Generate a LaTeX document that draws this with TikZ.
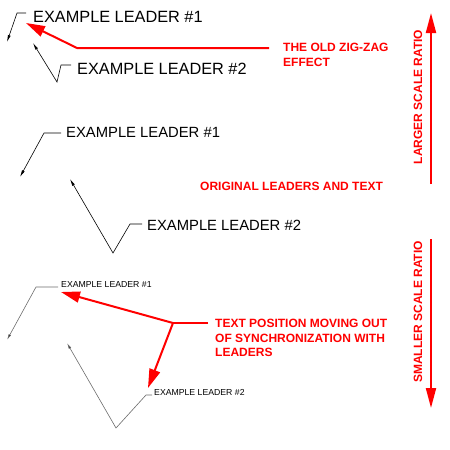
\documentclass[tikz,border=0pt]{standalone}
\usepackage{fontspec}
\setmainfont{Liberation Sans}
\usetikzlibrary{arrows.meta}
\definecolor{cadred}{RGB}{255,0,0}
\begin{document}
\begin{tikzpicture}[x=1pt,y=-1pt,
  leadtxt/.style={anchor=base west,inner sep=0pt,text=black},
  redtxt/.style={anchor=north west,inner sep=0pt,text=cadred,align=left,font=\bfseries\fontsize{12}{14.5}\selectfont},
  leader/.style={draw=black,line width=0.6pt,-{Latex[length=7pt,width=3pt]}},
  gleader/.style={draw=gray!85!black,line width=0.6pt,-{Latex[length=6pt,width=2.6pt,fill=black]}},
  redarrow/.style={draw=cadred,line width=2pt,-{Triangle[length=19pt,width=11pt]}},
  redline/.style={draw=cadred,line width=2pt}]
\useasboundingbox (0,0) rectangle (450,450);
% ---------- top group ----------
\node[leadtxt,font=\fontsize{16.3}{18}\selectfont] (a1) at (33,22) {EXAMPLE LEADER \#1};
\node[leadtxt,font=\fontsize{16.3}{18}\selectfont] (a2) at (77,74) {EXAMPLE LEADER \#2};
\coordinate (a1l) at (26,13); \coordinate (a1k) at (17,13); \coordinate (a1t) at (7,42);
\coordinate (a2l) at (71,65); \coordinate (a2k) at (61,65); \coordinate (a2m) at (57,82); \coordinate (a2t) at (33,43);
\draw[leader] (a1l) -- (a1k) -- (a1t);
\draw[leader] (a2l) -- (a2k) -- (a2m) -- (a2t);
\node[redtxt] (zz) at (283,43) {THE OLD ZIG-ZAG\\EFFECT};
\coordinate (zr) at (269,48); \coordinate (zk) at (77,48); \coordinate (zt) at (26,23);
\draw[redarrow] (zr) -- (zk) -- (zt);
% ---------- middle group ----------
\node[leadtxt,font=\fontsize{14.8}{17}\selectfont] (b1) at (66,137) {EXAMPLE LEADER \#1};
\node[leadtxt,font=\fontsize{14.8}{17}\selectfont] (b2) at (147,230) {EXAMPLE LEADER \#2};
\coordinate (b1l) at (61,133); \coordinate (b1k) at (44,133); \coordinate (b1t) at (20,177);
\coordinate (b2l) at (142,224); \coordinate (b2k) at (130,224); \coordinate (b2m) at (113,253); \coordinate (b2t) at (70,179);
\draw[leader] (b1l) -- (b1k) -- (b1t);
\draw[leader] (b2l) -- (b2k) -- (b2m) -- (b2t);
\node[redtxt] (orig) at (200,182) {ORIGINAL LEADERS AND TEXT};
% ---------- bottom group ----------
\node[leadtxt,font=\fontsize{8.7}{10}\selectfont] (c1) at (61,287) {EXAMPLE LEADER \#1};
\node[leadtxt,font=\fontsize{8.7}{10}\selectfont] (c2) at (154,395) {EXAMPLE LEADER \#2};
\coordinate (c1l) at (58,287); \coordinate (c1k) at (36,287); \coordinate (c1t) at (7,340);
\coordinate (c2l) at (152,395); \coordinate (c2k) at (146,395); \coordinate (c2m) at (116,428); \coordinate (c2t) at (67,343);
\draw[gleader] (c1l) -- (c1k) -- (c1t);
\draw[gleader] (c2l) -- (c2k) -- (c2m) -- (c2t);
\node[redtxt] (sync) at (215,319) {TEXT POSITION MOVING OUT\\OF SYNCHRONIZATION WITH\\LEADERS};
\coordinate (sr) at (208,323); \coordinate (sk) at (173,323);
\coordinate (st1) at (61,292); \coordinate (st2) at (148,388);
\draw[redline] (sr) -- (sk);
\draw[redarrow] (sk) -- (st1);
\draw[redarrow] (sk) -- (st2);
% ---------- scale arrows ----------
\coordinate (u0) at (431,184); \coordinate (u1) at (431,13);
\coordinate (d0) at (431,239); \coordinate (d1) at (431,408);
\draw[draw=cadred,line width=2pt,-{Triangle[length=20pt,width=10pt]}] (u0) -- (u1);
\draw[draw=cadred,line width=2pt,-{Triangle[length=20pt,width=10pt]}] (d0) -- (d1);
\node[rotate=90,inner sep=0pt,text=cadred,font=\bfseries\fontsize{12}{14}\selectfont] (lg) at (418,97) {LARGER SCALE RATIO};
\node[rotate=90,inner sep=0pt,text=cadred,font=\bfseries\fontsize{12}{14}\selectfont] (sm) at (418,312) {SMALLER SCALE RATIO};
\end{tikzpicture}
\end{document}
